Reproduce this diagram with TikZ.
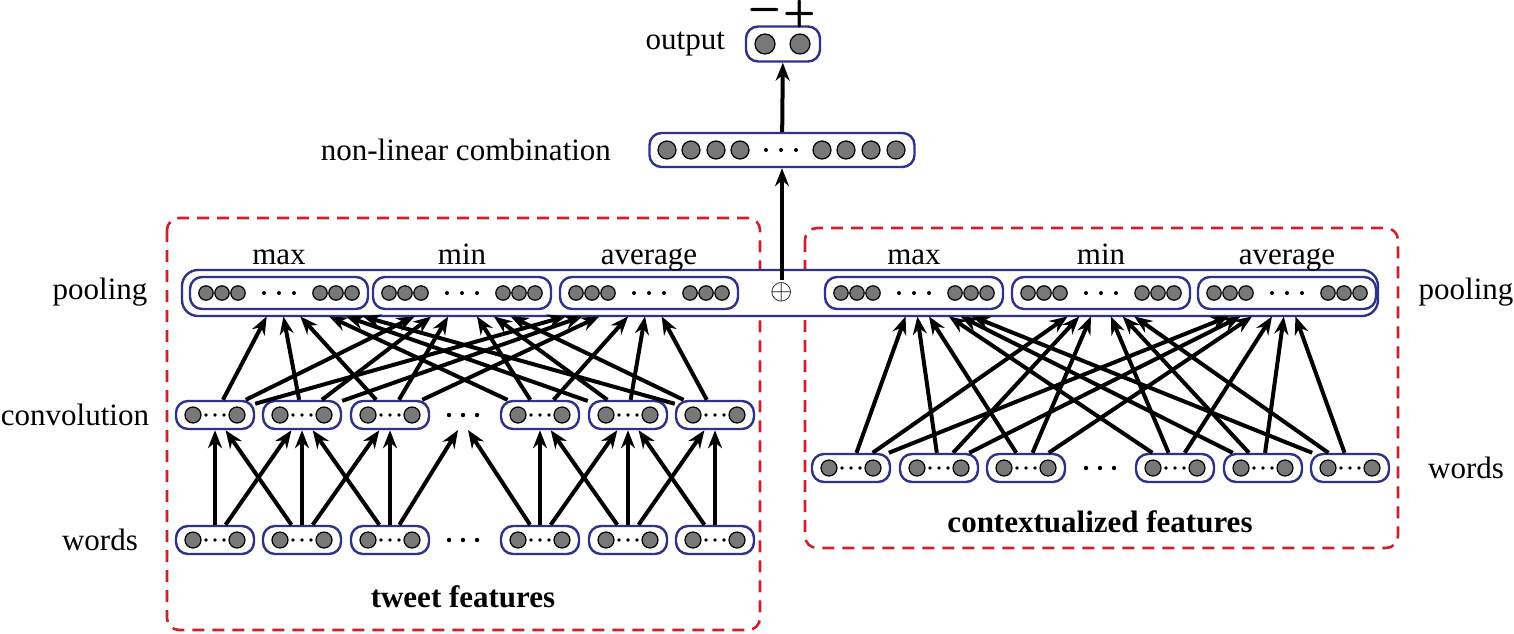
\documentclass[tikz,border=0pt]{standalone}
\usepackage{fontspec}
\setmainfont{Liberation Serif}
\usetikzlibrary{arrows.meta}
\definecolor{nv}{RGB}{45,50,140}
\definecolor{rd}{RGB}{210,30,40}
\definecolor{cg}{RGB}{120,120,120}
\begin{document}
\begin{tikzpicture}[x=0.5pt,y=-0.5pt,
  box/.style={draw=nv,line width=1.2pt,rounded corners=6pt,fill=white,inner sep=0pt},
  sbox/.style={box,minimum width=39pt,minimum height=14pt},
  pbox/.style={box,minimum width=89pt,minimum height=16pt},
  ptgt/.style={inner sep=0pt,minimum width=89pt,minimum height=23pt},
  cir/.style={fill=cg,draw=black,line width=0.6pt},
  arr/.style={line width=2pt,-{Stealth[length=9pt,width=7pt]}},
  lab/.style={font=\fontsize{15.5}{18}\selectfont},
  plab/.style={lab,anchor=base},
  sgn/.style={font=\sffamily\bfseries\fontsize{19}{20}\selectfont,inner sep=0pt},
  redbox/.style={draw=rd,line width=1.3pt,dash pattern=on 6pt off 4pt,rounded corners=6pt}]
\useasboundingbox (0,0) rectangle (1514,633);
\newcommand\sbx[3]{\node[sbox] (#1) at (#2,#3) {};
  \fill[cir] (#2-22,#3) circle (4pt); \fill[cir] (#2+22,#3) circle (4pt);
  \foreach \d in {-9,0,9} \fill (#2+\d,#3) circle (0.9pt);}
\newcommand\pbx[3]{\node[pbox] (#1) at (#2,#3) {};
  \node[ptgt] (#1T) at (#2,#3) {};
  \foreach \d in {-73,-57,-41,41,57,73} \fill[cir] (#2+\d,#3) circle (3.6pt);
  \foreach \d in {-15,0,15} \fill (#2+\d,#3) circle (1pt);}
% dashed boxes
\draw[redbox] (167,218) rectangle (760,630);
\draw[redbox] (805,228) rectangle (1398,548);
% output
\node[box,minimum width=37pt,minimum height=17.5pt] (out) at (783,44) {};
\fill[cir] (765,44) circle (5pt); \fill[cir] (800,44) circle (5pt);
\node[sgn] (minus) at (765,14) {−};
\node[sgn] (plus) at (800,14) {+};
\node[lab,anchor=east] (outl) at (732,44) {output};
% nonlinear
\node[box,minimum width=132.5pt,minimum height=17pt] (nl) at (782,150) {};
\foreach \d in {-115,-91,-66,-42,40,64,89,114} \fill[cir] (782+\d,150) circle (4.5pt);
\foreach \d in {-15,0,15} \fill (781+\d,150) circle (1pt);
\node[lab,anchor=east] (nll) at (618,150) {non-linear combination};
% pooling
\node[box,minimum width=598pt,minimum height=23pt,rounded corners=8pt] (pool) at (780,293) {};
\pbx{pa}{279}{293}\pbx{pb}{462}{293}\pbx{pc}{649}{293}
\pbx{pd}{914}{293}\pbx{pe}{1101}{293}\pbx{pf}{1287}{293}
\node[lab,inner sep=1pt] (oplus) at (782,292) {$\oplus$};
\node[plab] (la) at (279,264) {max};\node[plab] (lb) at (462,264) {min};\node[plab] (lc) at (649,264) {average};
\node[plab] (ld) at (914,264) {max};\node[plab] (le) at (1101,264) {min};\node[plab] (lf) at (1287,264) {average};
\node[lab] (pooll) at (100,292) {pooling};
\node[lab] (poolr) at (1466,292) {pooling};
\draw[arr] (oplus) -- (nl);
\draw[arr] (nl) -- (out);
% conv and words (left)
\sbx{c1}{215}{415}\sbx{c2}{302}{415}\sbx{c3}{390}{415}\sbx{c4}{540}{415}\sbx{c5}{628}{415}\sbx{c6}{715}{415}
\sbx{w1}{215}{540}\sbx{w2}{302}{540}\sbx{w3}{390}{540}\sbx{w4}{540}{540}\sbx{w5}{628}{540}\sbx{w6}{715}{540}
\foreach \d in {-14,0,14} {\fill (463+\d,415) circle (1.1pt); \fill (463+\d,540) circle (1.1pt);}
\node[lab] (convl) at (75,415) {convolution};
\node[lab] (wordl) at (100,540) {words};
\node[lab,font=\bfseries\fontsize{15.5}{18}\selectfont] (tf) at (463,597) {tweet features};
% right words
\sbx{r1}{851}{468}\sbx{r2}{939}{468}\sbx{r3}{1026}{468}\sbx{r4}{1175}{468}\sbx{r5}{1263}{468}\sbx{r6}{1350}{468}
\foreach \d in {-14,0,14} \fill (1100+\d,468) circle (1.1pt);
\node[lab] (wordr) at (1466,468) {words};
\node[lab,font=\bfseries\fontsize{15.5}{18}\selectfont] (cf) at (1100,522) {contextualized features};
% edges
\foreach \i in {1,...,6} {
  \foreach \P in {pa,pb,pc} \draw[arr] (c\i) -- (\P T);
  \foreach \P in {pd,pe,pf} \draw[arr] (r\i) -- (\P T);
}
\foreach \i/\j in {1/1,1/2,2/1,2/2,2/3,3/2,3/3,4/4,4/5,5/4,5/5,5/6,6/5,6/6}
  \draw[arr] (w\i) -- (c\j);
\coordinate (dl) at (458,430);
\coordinate (dr) at (468,430);
\draw[arr] (w3) -- (dl);
\draw[arr] (w4) -- (dr);
\end{tikzpicture}
\end{document}
